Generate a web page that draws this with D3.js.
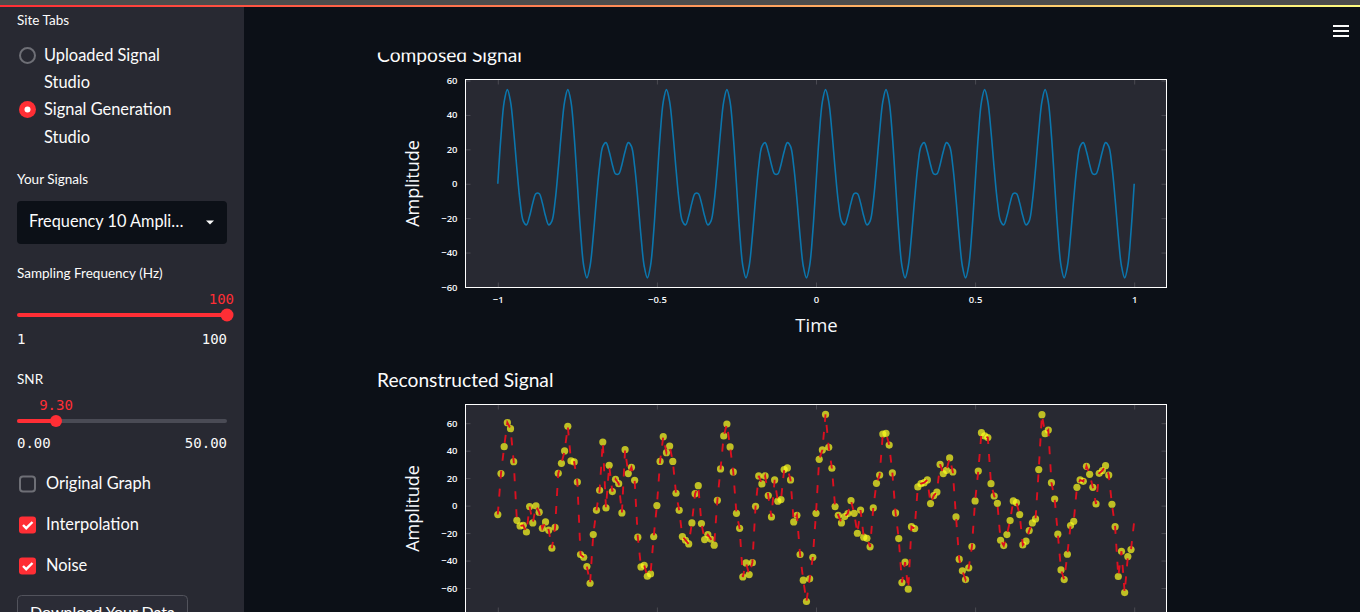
<!DOCTYPE html>
<html>
<head>
<meta charset="utf-8">
<script src="https://cdn.jsdelivr.net/npm/d3@7"></script>
<style>
  html, body { margin: 0; padding: 0; background: #0c1017; overflow: hidden; }
  svg { display: block; }
  .ui { font-family: Lato, "Noto Sans", sans-serif; fill: #fcfcfc; }
  .mono { font-family: "DejaVu Sans Mono", monospace; }
  .plotly { font-family: "Open Sans", sans-serif; fill: #f7f9fc; }
  .tick text { font-family: "Open Sans", sans-serif; font-size: 9.5px; font-weight: 600; fill: #f7f9fc; }
</style>
</head>
<body>
<svg width="1360" height="612"></svg>
<script>
// values
const composedValues = [
  0, 27.7, 47.6, 54.7, 47.8, 30.4, 8.8, -10.3, -21.7, -23.9, -18.8, -11.1, -5.7, -5.7, -11.1, -18.8, -23.9, -21.7, -10.3, 8.8, 30.4, 47.8, 54.7, 47.6, 27.7,
  0, -27.7, -47.6, -54.7, -47.8, -30.4, -8.8, 10.3, 21.7, 23.9, 18.8, 11.1, 5.7, 5.7, 11.1, 18.8, 23.9, 21.7, 10.3, -8.8, -30.4, -47.8, -54.7, -47.6, -27.7,
  0, 27.7, 47.6, 54.7, 47.8, 30.4, 8.8, -10.3, -21.7, -23.9, -18.8, -11.1, -5.7, -5.7, -11.1, -18.8, -23.9, -21.7, -10.3, 8.8, 30.4, 47.8, 54.7, 47.6, 27.7,
  0, -27.7, -47.6, -54.7, -47.8, -30.4, -8.8, 10.3, 21.7, 23.9, 18.8, 11.1, 5.7, 5.7, 11.1, 18.8, 23.9, 21.7, 10.3, -8.8, -30.4, -47.8, -54.7, -47.6, -27.7,
  0, 27.7, 47.6, 54.7, 47.8, 30.4, 8.8, -10.3, -21.7, -23.9, -18.8, -11.1, -5.7, -5.7, -11.1, -18.8, -23.9, -21.7, -10.3, 8.8, 30.4, 47.8, 54.7, 47.6, 27.7,
  0, -27.7, -47.6, -54.7, -47.8, -30.4, -8.8, 10.3, 21.7, 23.9, 18.8, 11.1, 5.7, 5.7, 11.1, 18.8, 23.9, 21.7, 10.3, -8.8, -30.4, -47.8, -54.7, -47.6, -27.7,
  0, 27.7, 47.6, 54.7, 47.8, 30.4, 8.8, -10.3, -21.7, -23.9, -18.8, -11.1, -5.7, -5.7, -11.1, -18.8, -23.9, -21.7, -10.3, 8.8, 30.4, 47.8, 54.7, 47.6, 27.7,
  0, -27.7, -47.6, -54.7, -47.8, -30.4, -8.8, 10.3, 21.7, 23.9, 18.8, 11.1, 5.7, 5.7, 11.1, 18.8, 23.9, 21.7, 10.3, -8.8, -30.4, -47.8, -54.7, -47.6, -27.7,
  0
];

const sampledValues = [
  -6.5, 23.3, 42.9, 60.4, 56, 32, -10.7, -14.8, -14.3, -19.2, -0.7, -12.6, -0.2, -4.8, -16.5, -11.9, -17.9, -31, -15.8, 23.5,
  30.8, 39.8, 57.7, 32.5, 31.8, 17.2, -35.6, -37.6, -44.4, -56.5, -21.1, -3.4, 11.2, 46.3, -1.7, 29.3, 10.2, 19.2, 16, -5.3,
  40.7, 23.3, 27.9, 18.4, -23, -44.6, -43.4, -51.4, -49.7, -22.5, 0, 32.2, 50.2, 38.5, 43.4, 32.2, 9, -3.4, -22.5, -25.2,
  -27.9, -12.6, 8.7, 14.5, -13.1, -24.7, -21.1, -24.5, -28.8, 3.9, 26.7, 50.7, 59.4, 42.7, 24.5, -5.6, -16.5, -51.9, -41.7, -50.2,
  -41.5, -0.5, 21.6, 15.8, 21.6, 7.3, -8.2, 18.7, 3.2, 4.4, 26.2, 27.4, 18.7, -11.9, -7, -35.6, -54.3, -69.8, -53.3, -37.6,
  -5.6, 33.7, 40.5, 66.4, 42.4, 27.2, -0.7, -7, -12.6, -8, -5.8, 3.6, -5.6, -20.1, -3.2, -23, -23.8, -30, -1.7, 16.2,
  22.3, 52.1, 52.6, 44.1, 23.8, -5.3, -24, -56, -41.2, -60.8, -15.3, -16.7, 13.6, 16, 16.7, 18.7, 1.5, 7.3, 9.9, 30,
  23.3, 25.7, 34.7, 24.5, -8.2, -39, -47.5, -53.8, -45.3, -29.8, 3.4, 25.2, 53.1, 50.7, 49.5, 16, 7, 1.7, -25.2, -29.1,
  -21.1, -10.9, 3.4, 2.2, -6.5, -28.6, -25.9, -18.2, -12.6, -9.7, 26.2, 66.2, 52.4, 55, 16.7, 4.8, -20.8, -46.8, -53.8, -35.4,
  -14.5, -11.4, 13.3, 18.7, 17.7, 28.6, 22.8, 13.3, 1.2, 23.5, 25.5, 29.1, 22.3, 1, -15.3, -51.6, -33.2, -63.3, -37.1, -32
];
// the interpolation line runs one step past the last sample
const interpolationEnd = -11.4;

const xTicks = [-1, -0.5, 0, 0.5, 1];
const composedYTicks = [-60, -40, -20, 0, 20, 40, 60];
const reconstructedYTicks = [-60, -40, -20, 0, 20, 40, 60];

const time = composedValues.map((_, i) => -1 + i / 100);
const interpolationValues = sampledValues.concat([interpolationEnd]);

const radioItems = [["Uploaded Signal", "Studio"], ["Signal Generation", "Studio"]];
const checkItems = ["Original Graph", "Interpolation", "Noise"];

const RED = "#ff2e35";
const SIDEBAR = "#282932";
const PAGE = "#0c1017";

const svg = d3.select("svg");
const format = d => String(d).replace("-", "\u2212");

// ---- main area

const main = svg.append("g");

function drawPlot(top, height, yDomain, yTicks, showXLabels) {
  const left = 465.5, right = 1166.5;
  const x = d3.scaleLinear().domain([-1.1015, 1.1015]).range([left, right]);
  const y = d3.scaleLinear().domain(yDomain).range([top + height, top]);

  main.append("rect")
    .attr("x", left).attr("y", top)
    .attr("width", right - left).attr("height", height)
    .attr("fill", SIDEBAR);

  // the lower plot's x labels sit below the window, so they are left out
  const axes = [
    [d3.axisBottom(x).tickValues(xTicks).tickFormat(showXLabels ? format : "").tickSizeInner(-5).tickPadding(9), `translate(0,${top + height})`],
    [d3.axisTop(x).tickValues(xTicks).tickFormat("").tickSizeInner(-5), `translate(0,${top})`],
    [d3.axisLeft(y).tickValues(yTicks).tickFormat(format).tickSizeInner(-5).tickPadding(8), `translate(${left},0)`],
    [d3.axisRight(y).tickValues(yTicks).tickFormat("").tickSizeInner(-5), `translate(${right},0)`]
  ];
  axes.forEach(([axis, tr]) => {
    const g = main.append("g").attr("transform", tr).call(axis.tickSizeOuter(0));
    g.select(".domain").remove();
    g.selectAll(".tick line").attr("stroke", "#4a4a52");
  });

  main.append("rect")
    .attr("x", left).attr("y", top)
    .attr("width", right - left).attr("height", height)
    .attr("fill", "none")
    .attr("stroke", "#fff")
    .attr("stroke-width", 1);

  main.append("text")
    .attr("class", "plotly")
    .attr("transform", `translate(419,${top + 104}) rotate(-90)`)
    .attr("text-anchor", "middle")
    .attr("font-size", 18)
    .text("Amplitude");

  return { x, y };
}

const composed = drawPlot(79.5, 208, [-60.3, 60.6], composedYTicks, true);
const composedLine = d3.line()
  .x((d, i) => composed.x(time[i]))
  .y(d => composed.y(d))
  .curve(d3.curveCatmullRom);

main.append("path")
  .datum(composedValues)
  .attr("d", composedLine)
  .attr("fill", "none")
  .attr("stroke", "#0b76ad")
  .attr("stroke-width", 1.6);

main.append("text")
  .attr("class", "plotly")
  .attr("x", 816.5).attr("y", 331.5)
  .attr("text-anchor", "middle")
  .attr("font-size", 18.5)
  .text("Time");

const recon = drawPlot(404.5, 208, [-77.8, 73.6], reconstructedYTicks, false);

main.append("g")
  .selectAll("circle")
  .data(sampledValues)
  .enter()
  .append("circle")
  .attr("cx", (d, i) => recon.x(time[i]))
  .attr("cy", d => recon.y(d))
  .attr("r", 3.6)
  .attr("fill", "#ffff1e")
  .attr("fill-opacity", 0.7);

const reconLine = d3.line()
  .x((d, i) => recon.x(time[i]))
  .y(d => recon.y(d));

main.append("path")
  .datum(interpolationValues)
  .attr("d", reconLine)
  .attr("fill", "none")
  .attr("stroke", "#dc1020")
  .attr("stroke-width", 1.9)
  .attr("stroke-dasharray", "8,10");

// section headings; the first one slides under the app header
svg.append("defs").append("clipPath").attr("id", "headingClip")
  .append("rect").attr("x", 244).attr("y", 52.5).attr("width", 1116).attr("height", 560);

main.append("g").attr("clip-path", "url(#headingClip)")
  .selectAll("text")
  .data([["Composed Signal", 62], ["Reconstructed Signal", 387]])
  .enter()
  .append("text")
  .attr("class", "ui")
  .attr("x", 377)
  .attr("y", d => d[1])
  .attr("font-size", 19.2)
  .text(d => d[0]);

// hamburger
svg.append("g").selectAll("rect")
  .data([26, 31, 36])
  .enter()
  .append("rect")
  .attr("x", 1333).attr("y", d => d - 1)
  .attr("width", 16).attr("height", 2)
  .attr("fill", "#fafafa");

// ---- sidebar

const side = svg.append("g");
side.append("rect").attr("width", 244).attr("height", 612).attr("fill", SIDEBAR);

const label = (t, x, y, size = 13.5, anchor = "start") => side.append("text")
  .attr("class", "ui")
  .attr("x", x).attr("y", y)
  .attr("font-size", size)
  .attr("text-anchor", anchor)
  .text(t);

const mono = (t, x, y, color = "#fafafa", anchor = "start") => side.append("text")
  .attr("class", "mono")
  .attr("x", x).attr("y", y)
  .attr("font-size", 14)
  .attr("fill", color)
  .attr("text-anchor", anchor)
  .text(t);

label("Site Tabs", 17, 25);

side.append("circle").attr("cx", 27.5).attr("cy", 55.5).attr("r", 7.5)
  .attr("fill", "none").attr("stroke", "#6e6f76").attr("stroke-width", 2);
side.append("circle").attr("cx", 27.5).attr("cy", 109.5).attr("r", 8.5).attr("fill", RED);
side.append("circle").attr("cx", 27.5).attr("cy", 109.5).attr("r", 3).attr("fill", "#fff");

radioItems.forEach((lines, i) => {
  label(lines[0], 44, 61 + i * 54, 16.4);
  label(lines[1], 44, 88 + i * 54.5, 16.4);
});

label("Your Signals", 17, 184);
side.append("rect").attr("x", 17).attr("y", 201)
  .attr("width", 210).attr("height", 43).attr("rx", 4).attr("fill", PAGE);
label("Frequency 10 Ampli\u2026", 29, 227, 16.3);
side.append("path").attr("d", d3.line()([[206, 220.5], [214, 220.5], [210, 224.5]])).attr("fill", "#fafafa");

label("Sampling Frequency (Hz)", 17, 278);
mono("100", 234, 304, RED, "end");
side.append("rect").attr("x", 17).attr("y", 313).attr("width", 210).attr("height", 4).attr("rx", 2).attr("fill", RED);
side.append("circle").attr("cx", 227).attr("cy", 315).attr("r", 6.5).attr("fill", RED);
mono("1", 17, 344);
mono("100", 227, 344, "#fafafa", "end");

label("SNR", 17, 383.5);
mono("9.30", 56, 409.5, RED, "middle");
side.append("rect").attr("x", 17).attr("y", 419).attr("width", 210).attr("height", 4).attr("rx", 2).attr("fill", "#4a4b55");
side.append("rect").attr("x", 17).attr("y", 419).attr("width", 39).attr("height", 4).attr("rx", 2).attr("fill", RED);
side.append("circle").attr("cx", 56).attr("cy", 421).attr("r", 6).attr("fill", RED);
mono("0.00", 17, 448);
mono("50.00", 227, 448, "#fafafa", "end");

checkItems.forEach((t, i) => {
  const cy = [484, 525, 566][i];
  const on = i > 0;
  side.append("rect")
    .attr("x", on ? 19 : 20).attr("y", cy - (on ? 8.5 : 7.5))
    .attr("width", on ? 17 : 15).attr("height", on ? 17 : 15).attr("rx", 3)
    .attr("fill", on ? RED : "none")
    .attr("stroke", on ? "none" : "#6e6f76")
    .attr("stroke-width", 2);
  if (on) {
    side.append("path")
      .attr("d", d3.line()([[23, cy], [26.2, cy + 3.2], [32.5, cy - 3]]))
      .attr("fill", "none").attr("stroke", "#fff").attr("stroke-width", 2.4);
  }
  label(t, 46, cy + 4.5, 16.4);
});

side.append("rect").attr("x", 17.5).attr("y", 595.5)
  .attr("width", 170).attr("height", 40).attr("rx", 4)
  .attr("fill", "#2b2c36").attr("stroke", "#52535c");
label("Download Your Data", 102.5, 618, 16, "middle");

// ---- top decoration

svg.append("rect").attr("width", 1360).attr("height", 5).attr("fill", "#4c4c4c");
const grad = svg.select("defs").append("linearGradient").attr("id", "topBar");
grad.append("stop").attr("offset", "0%").attr("stop-color", RED);
grad.append("stop").attr("offset", "100%").attr("stop-color", "#fffd80");
svg.append("rect").attr("y", 5).attr("width", 1360).attr("height", 2).attr("fill", "url(#topBar)");
</script>
</body>
</html>
